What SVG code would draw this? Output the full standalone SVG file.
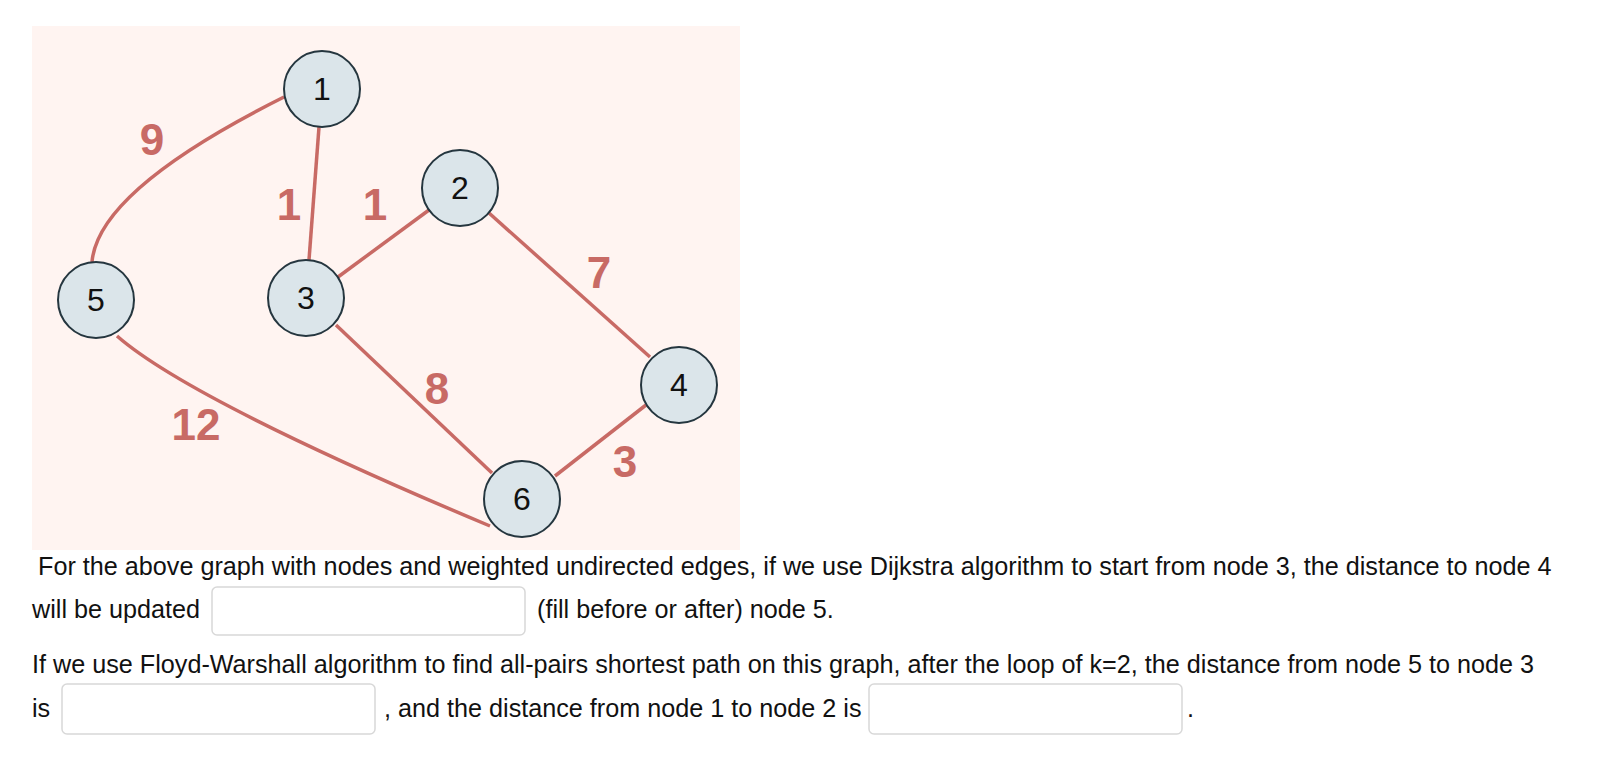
<svg xmlns="http://www.w3.org/2000/svg" width="1617" height="783" viewBox="0 0 1617 783">
<style>
.n{fill:#dbe5ea;stroke:#25363f;stroke-width:2}
.nt{font-family:"Liberation Sans",Arial,sans-serif;font-size:32px;fill:#111;text-anchor:middle}
.e{stroke:#c86a65;stroke-width:3.5;fill:none}
.w{font-family:"Liberation Sans",Arial,sans-serif;font-size:44px;font-weight:bold;fill:#c86a65;text-anchor:middle}
.t{font-family:"Liberation Sans",Arial,sans-serif;font-size:25.2px;fill:#111}
.b{fill:#fff;stroke:#d8d8d8;stroke-width:1.5}
</style>
<rect width="1617" height="783" fill="#fff"/>
<rect x="32" y="26" width="708" height="524" fill="#fff4f1"/>
<g id="connectors">
<path class="e" d="M284,97 Q98,190 92,262"/>
<line class="e" x1="319" y1="127" x2="309" y2="260"/>
<line class="e" x1="429" y1="210" x2="338" y2="277"/>
<line class="e" x1="489" y1="213" x2="650" y2="357"/>
<line class="e" x1="336" y1="325" x2="492" y2="473"/>
<line class="e" x1="646" y1="405" x2="555" y2="476"/>
<path class="e" d="M117,336 Q190,400 490,526"/>
<text class="w" x="152" y="155">9</text>
<text class="w" x="289" y="220">1</text>
<text class="w" x="375" y="220">1</text>
<text class="w" x="599" y="288">7</text>
<text class="w" x="437" y="404">8</text>
<text class="w" x="196" y="440">12</text>
<text class="w" x="625" y="477">3</text>
</g>
<g id="node1"><circle class="n" cx="322" cy="89" r="38"/><text class="nt" x="322" y="100">1</text></g>
<g id="node2"><circle class="n" cx="460" cy="188" r="38"/><text class="nt" x="460" y="199">2</text></g>
<g id="node3"><circle class="n" cx="306" cy="298" r="38"/><text class="nt" x="306" y="309">3</text></g>
<g id="node4"><circle class="n" cx="679" cy="385" r="38"/><text class="nt" x="679" y="396">4</text></g>
<g id="node5"><circle class="n" cx="96" cy="300" r="38"/><text class="nt" x="96" y="311">5</text></g>
<g id="node6"><circle class="n" cx="522" cy="499" r="38"/><text class="nt" x="522" y="510">6</text></g>
<text class="t" x="38" y="575">For the above graph with nodes and weighted undirected edges, if we use Dijkstra algorithm to start from node 3, the distance to node 4</text>
<text class="t" x="32" y="618">will be updated</text>
<rect class="b" x="212" y="587" width="313" height="48" rx="5"/>
<text class="t" x="537" y="618">(fill before or after) node 5.</text>
<text class="t" x="32" y="673">If we use Floyd-Warshall algorithm to find all-pairs shortest path on this graph, after the loop of k=2, the distance from node 5 to node 3</text>
<text class="t" x="32" y="717">is</text>
<rect class="b" x="62" y="684" width="313" height="50" rx="5"/>
<text class="t" x="384" y="717">, and the distance from node 1 to node 2 is</text>
<rect class="b" x="869" y="684" width="313" height="50" rx="5"/>
<text class="t" x="1187" y="717">.</text>
</svg>
